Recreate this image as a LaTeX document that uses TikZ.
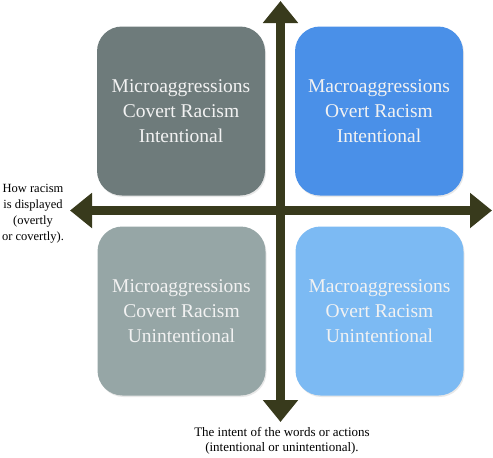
\documentclass[tikz,border=0pt]{standalone}
\usepackage{fontspec}
\setmainfont{Liberation Serif}
\usetikzlibrary{arrows.meta,shadows}
\definecolor{axiscol}{RGB}{56,58,28}
\definecolor{tlcol}{RGB}{110,123,123}
\definecolor{trcol}{RGB}{74,144,232}
\definecolor{blcol}{RGB}{150,166,166}
\definecolor{brcol}{RGB}{124,186,243}
\definecolor{boxtext}{RGB}{242,242,242}
\tikzset{
  quad/.style={rounded corners=25pt, minimum width=168pt, minimum height=169pt,
    inner sep=0pt, align=center, text=boxtext,
    font=\fontsize{19.5}{25}\selectfont,
    drop shadow={opacity=0.18, shadow xshift=1pt, shadow yshift=-1.5pt}},
  axis/.style={line width=8.5pt, draw=axiscol,
    -{Triangle[width=34pt,length=22pt]}},
  outerlabel/.style={align=center, inner sep=0pt, text=black}
}
\begin{document}
\begin{tikzpicture}[x=1pt,y=-1pt]
\useasboundingbox (0,0) rectangle (493,458);
\fill[white] (0,0) rectangle (493,458);
% quadrants
\node[quad, fill=tlcol] (tl) at (181,111) {Microaggressions\\Covert Racism\\Intentional};
\node[quad, fill=trcol] (tr) at (379,111) {Macroaggressions\\Overt Racism\\Intentional};
\node[quad, fill=blcol] (bl) at (181.5,311) {Microaggressions\\Covert Racism\\Unintentional};
\node[quad, fill=brcol] (br) at (379.5,311) {Macroaggressions\\Overt Racism\\Unintentional};
% axes
\coordinate (c) at (280.5,210.5);
\coordinate (top) at (280.5,1);
\coordinate (bot) at (280.5,422);
\coordinate (lft) at (70,210.5);
\coordinate (rgt) at (492,210.5);
\draw[axis] (c) -- (top);
\draw[axis] (c) -- (bot);
\draw[axis] (c) -- (lft);
\draw[axis] (c) -- (rgt);
% labels
\node[outerlabel, font=\fontsize{12.5}{16}\selectfont] (hl) at (33,214)
  {How racism\\is displayed\\(overtly\\or covertly).};
\node[outerlabel, font=\fontsize{13}{14.5}\selectfont] (vl) at (282,441)
  {The intent of the words or actions\\(intentional or unintentional).};
\end{tikzpicture}
\end{document}
